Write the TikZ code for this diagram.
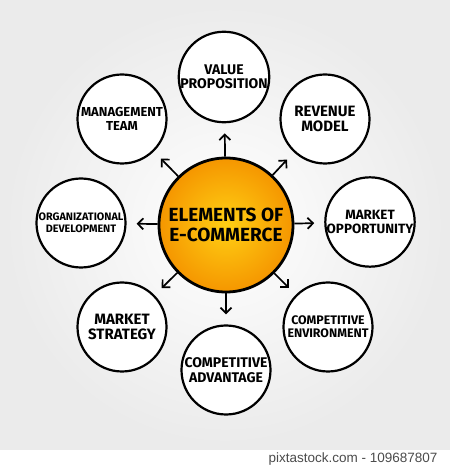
\documentclass[tikz,border=0pt]{standalone}
\usepackage{fontspec}
\setmainfont{Fira Sans}
\newfontfamily\wmfont{Liberation Sans}
\usepackage{xcolor}
\usetikzlibrary{arrows.meta}

\definecolor{coreIn}{RGB}{255,208,20}
\definecolor{coreOut}{RGB}{245,150,0}

\tikzset{
  elem/.style={draw, circle, line width=2.2pt, fill=white, minimum size=89pt,
    inner sep=0pt, align=center},
  arr/.style={-{Straight Barb[length=5.5pt,width=11pt]}, line width=1.7pt,
    shorten >=10pt}
}

\begin{document}
\begin{tikzpicture}[x=1pt,y=1pt]
                \useasboundingbox (0,0) rectangle (450,469);
                \fill[white] (0,0) rectangle (450,469);
                \shade[inner color=white, outer color=black!8] (0,19) rectangle (450,469);
                \node[draw, circle, line width=2.8pt, minimum size=134pt, inner color=coreIn, outer color=coreOut, align=center,
                  font=\bfseries\fontsize{19}{19.5}\selectfont] (ctr) at (226,244) {ELEMENTS OF\\E-COMMERCE};
                \node[elem, font=\bfseries\fontsize{14}{14.5}\selectfont] (vp) at (224,392) {VALUE\\PROPOSITION};
                \node[elem, font=\bfseries\fontsize{15}{15.5}\selectfont] (rm) at (325,350) {REVENUE\\MODEL};
                \node[elem, font=\bfseries\fontsize{13.4}{14}\selectfont] (mo) at (370,247) {MARKET\\OPPORTUNITY};
                \node[elem, font=\bfseries\fontsize{12.4}{13}\selectfont] (ce) at (328,142) {COMPETITIVE\\ENVIRONMENT};
                \node[elem, font=\bfseries\fontsize{14}{14.5}\selectfont] (ca) at (226,99) {COMPETITIVE\\ADVANTAGE};
                \node[elem, font=\bfseries\fontsize{15}{15.5}\selectfont] (ms) at (122,142) {MARKET\\STRATEGY};
                \node[elem, font=\bfseries\fontsize{10.8}{11.5}\selectfont] (od) at (81,246) {ORGANIZATIONAL\\DEVELOPMENT};
                \node[elem, font=\bfseries\fontsize{13}{13.5}\selectfont] (mt) at (122,350) {MANAGEMENT\\TEAM};
                \foreach \n in {vp,rm,mo,ce,ca,ms,od,mt}
                  \draw[arr] (ctr) -- (\n);
                \node[font=\wmfont\fontsize{13.5}{14}\selectfont, text=black!70] (wm) at (353,10) {pixtastock.com - 109687807};
            \end{tikzpicture}
\end{document}
